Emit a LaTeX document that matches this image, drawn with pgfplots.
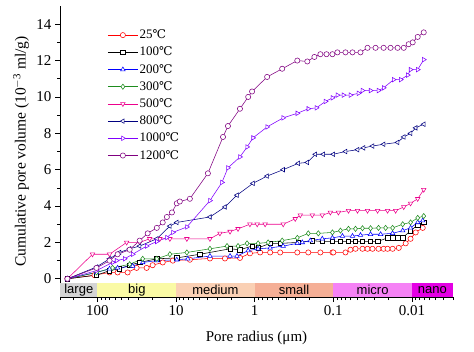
\documentclass[border=0pt]{standalone}
\usepackage{fontspec}
\setmainfont{Liberation Serif}
\setsansfont{Liberation Sans}
\newfontfamily\degfont{DejaVu Serif}
\newcommand{\dC}{{\degfont\fontsize{12}{14}\selectfont ℃}}
\usepackage{pgfplots}
\pgfplotsset{compat=1.18}
\definecolor{cgreen}{RGB}{30,140,30}
\definecolor{cnavy}{RGB}{0,0,128}
\definecolor{cviolet}{RGB}{128,0,255}
\definecolor{cpurple}{RGB}{128,0,128}
\definecolor{blarge}{RGB}{212,212,212}
\definecolor{bbig}{RGB}{250,250,165}
\definecolor{bmedium}{RGB}{250,208,180}
\definecolor{bsmall}{RGB}{245,175,150}
\definecolor{bmicro}{RGB}{245,130,245}
\definecolor{bnano}{RGB}{228,0,228}
\begin{document}
\begin{tikzpicture}
\useasboundingbox (-60pt,-54pt) rectangle (414pt,297pt);
\begin{axis}[
  at={(0pt,0pt)}, anchor=south west,
  scale only axis, width=393pt, height=291pt,
  xmode=log, x dir=reverse,
  xmin=0.003, xmax=300, ymin=-1, ymax=15,
  axis lines*=left,
  axis line style={line width=0.8pt},
  xtick={100,10,1,0.1,0.01},
  xticklabels={100,10,1,0.1,0.01},
  minor xtick={300,200,90,80,70,60,50,40,30,20,9,8,7,6,5,4,3,2,0.9,0.8,0.7,0.6,0.5,0.4,0.3,0.2,0.09,0.08,0.07,0.06,0.05,0.04,0.03,0.02,0.009,0.008,0.007,0.006,0.005,0.004,0.003},
  ytick={0,2,...,14},
  minor ytick={1,3,...,13},
  tick align=outside,
  major tick length=5pt, minor tick length=3pt,
  tick style={line width=0.7pt, black},
  /pgf/number format/assume math mode=true,
  tick label style={font=\fontsize{15}{18}\selectfont},
  xlabel={Pore radius (μm)},
  ylabel={Cumulative pore volume (10\textsuperscript{$-$3} ml/g)},
  every axis x label/.style={at={(axis description cs:0.5,-0.141)}, anchor=center, font=\fontsize{15}{18}\selectfont},
  every axis y label/.style={at={(axis description cs:-0.099,0.5)}, anchor=center, rotate=90, font=\fontsize{15.5}{18}\selectfont},
  legend style={draw=none, fill=none, at={(axis description cs:0.113,0.935)}, anchor=north west,
    font=\fontsize{13}{15}\selectfont, row sep=1.2pt,
    nodes={inner sep=1.5pt, text height=10pt, text depth=3pt}},
  legend cell align=left,
  legend image code/.code={\draw[mark repeat=2,mark phase=2,#1] plot coordinates {(0pt,0pt) (15pt,0pt) (30pt,0pt)};},
  every axis plot/.append style={line width=0.55pt, mark size=2.6pt},
  clip=false,
]
% size bands
\fill[blarge] (axis cs:300,-1) rectangle (axis cs:100,-0.22);
\fill[bbig] (axis cs:100,-1) rectangle (axis cs:10,-0.22);
\fill[bmedium] (axis cs:10,-1) rectangle (axis cs:1,-0.22);
\fill[bsmall] (axis cs:1,-1) rectangle (axis cs:0.1,-0.22);
\fill[bmicro] (axis cs:0.1,-1) rectangle (axis cs:0.01,-0.22);
\fill[bnano] (axis cs:0.01,-1) rectangle (axis cs:0.003,-0.22);
\node[font=\sffamily\fontsize{13}{15}\selectfont] at (axis cs:173,-0.6) {large};
\node[font=\sffamily\fontsize{13}{15}\selectfont] at (axis cs:31.6,-0.6) {big};
\node[font=\sffamily\fontsize{13}{15}\selectfont] at (axis cs:3.16,-0.6) {medium};
\node[font=\sffamily\fontsize{13}{15}\selectfont] at (axis cs:0.316,-0.6) {small};
\node[font=\sffamily\fontsize{13}{15}\selectfont] at (axis cs:0.0316,-0.6) {micro};
\node[font=\sffamily\fontsize{13}{15}\selectfont] at (axis cs:0.0055,-0.6) {nano};

% 25 C
\addplot[red, mark=*, mark options={solid, fill=white, line width=0.55pt}] coordinates {
(241.5,0) (109.2,0.2) (70.3,0.35) (55.5,0.35) (41.4,0.35) (31.8,0.6) (23.7,0.6) (19.9,0.75)
(14.8,0.9) (11.0,1.0) (6.68,1.05) (3.71,1.12) (2.39,1.12) (1.54,1.15) (1.15,1.4) (0.853,1.45)
(0.636,1.45) (0.474,1.45) (0.287,1.45) (0.208,1.45) (0.146,1.45) (0.1026,1.45) (0.0998,1.45) (0.070,1.45)
(0.0605,1.6) (0.0522,1.65) (0.0425,1.65) (0.0367,1.65) (0.0317,1.65) (0.0266,1.65) (0.0229,1.65)
(0.0204,1.65) (0.0176,1.65) (0.0147,1.7) (0.0120,1.95) (0.0104,2.2) (0.00895,2.55) (0.00728,2.8)};
\addlegendentry{25\dC}
% 100 C
\addplot[black, mark=square*, mark options={solid, fill=white, line width=0.55pt, scale=0.85}] coordinates {
(241.5,0) (103,0.2) (70.3,0.45) (52.4,0.55) (39.0,0.75) (29.1,0.9) (17.6,1.1) (9.8,1.15)
(4.98,1.35) (2.06,1.65) (1.54,1.6) (1.08,1.8) (0.905,1.7) (0.636,1.95) (0.474,1.95) (0.279,2.0)
(0.185,2.1) (0.138,2.05) (0.1026,2.05) (0.0811,2.05) (0.0641,2.05) (0.0522,2.05) (0.0425,2.05)
(0.0336,2.05) (0.0273,2.05) (0.0204,2.25) (0.0176,2.25) (0.0152,2.25) (0.0131,2.25) (0.0104,2.65)
(0.00844,2.95) (0.00707,3.1)};
\addlegendentry{100\dC}
% 200 C
\addplot[blue, mark=triangle*, mark options={solid, fill=white, line width=0.55pt}] coordinates {
(241.5,0) (103,0.35) (70.3,0.55) (55.5,0.6) (35.7,0.7) (26.6,0.9) (17.6,1.0) (9.8,1.05) (7.09,1.1)
(3.71,1.25) (2.06,1.25) (1.68,1.25) (1.21,1.55) (0.905,1.65) (0.636,1.7) (0.434,1.8) (0.287,1.95)
(0.248,2.0) (0.196,2.1) (0.138,2.2) (0.1026,2.25) (0.0765,2.35) (0.0570,2.35) (0.0451,2.4)
(0.0336,2.45) (0.025,2.45) (0.0176,2.5) (0.0131,2.65) (0.0104,2.8) (0.00844,3.1) (0.00728,3.2)};
\addlegendentry{200\dC}
% 300 C
\addplot[cgreen, mark=diamond*, mark options={solid, fill=white, line width=0.55pt}] coordinates {
(241.5,0) (103,0.35) (64.3,0.6) (39.0,0.8) (26.6,1.1) (17.6,1.1) (12.0,1.35) (7.30,1.45)
(3.71,1.65) (2.25,1.8) (1.63,1.8) (1.25,1.95) (0.905,1.95) (0.675,2.0) (0.447,2.1) (0.287,2.25)
(0.208,2.5) (0.155,2.5) (0.1026,2.55) (0.0811,2.65) (0.0641,2.75) (0.0522,2.75) (0.0425,2.78)
(0.0336,2.78) (0.0266,2.8) (0.0216,2.8) (0.0176,2.8) (0.0131,3.0) (0.0104,3.1) (0.00844,3.35) (0.00707,3.45)};
\addlegendentry{300\dC}
% 500 C
\addplot[magenta, mark=triangle*, mark options={solid, fill=white, line width=0.55pt, rotate=180}] coordinates {
(241.5,0) (115.8,1.35) (70.3,1.35) (42.6,2.0) (29.1,2.0) (21.7,2.2) (16.1,2.2) (12.0,2.2)
(7.30,2.2) (3.71,2.2) (2.77,2.5) (2.06,2.6) (1.63,2.75) (1.15,3.0) (0.93,3.0) (0.737,3.0)
(0.434,3.0) (0.305,3.3) (0.263,3.5) (0.185,3.5) (0.138,3.5) (0.109,3.65) (0.0861,3.65) (0.0641,3.75)
(0.0492,3.75) (0.0367,3.75) (0.0273,3.75) (0.0204,3.75) (0.0161,3.75) (0.0127,3.95) (0.0104,4.15)
(0.00844,4.4) (0.00707,4.9)};
\addlegendentry{500\dC}
% 800 C
\addplot[cnavy, mark=triangle*, mark options={solid, fill=white, line width=0.55pt, rotate=90}] coordinates {
(241.5,0) (103,0.65) (70.3,1.1) (52.4,1.45) (39.0,1.65) (29.1,1.8) (17.6,2.2) (12.0,2.9) (9.8,3.1)
(3.71,3.4) (2.39,3.95) (1.68,4.6) (1.05,5.25) (0.695,5.65) (0.434,6.0) (0.279,6.35) (0.214,6.4)
(0.169,6.85) (0.134,6.85) (0.0998,6.85) (0.070,7.0) (0.0492,7.1) (0.0413,7.2) (0.0317,7.3)
(0.0229,7.4) (0.0152,7.5) (0.0127,7.8) (0.0104,8.0) (0.00895,8.3) (0.00707,8.5)};
\addlegendentry{800\dC}
% 1000 C
\addplot[cviolet, mark=triangle*, mark options={solid, fill=white, line width=0.55pt, rotate=-90}] coordinates {
(241.5,0) (103,0.45) (64.3,0.9) (57.2,1.0) (45.2,1.1) (35.7,1.35) (23.7,1.8) (17.6,2.05) (13.1,2.27)
(11.0,2.55) (7.30,2.85) (3.71,4.3) (2.61,5.3) (2.19,6.1) (1.54,6.7) (1.25,7.25) (1.05,7.75)
(0.695,8.35) (0.434,8.85) (0.287,9.1) (0.208,9.35) (0.164,9.4) (0.126,9.75) (0.1026,9.95)
(0.0887,10.1) (0.0743,10.1) (0.0605,10.1) (0.0478,10.2) (0.0425,10.35) (0.0336,10.35) (0.0266,10.35)
(0.0229,10.5) (0.0171,10.95) (0.0139,10.95) (0.0113,11.2) (0.0104,11.5) (0.00844,11.5) (0.00707,12.05)};
\addlegendentry{1000\dC}
% 1200 C
\addplot[cpurple, mark=*, mark options={solid, fill=white, line width=0.55pt}] coordinates {
(241.5,0) (103,0.6) (70.3,1.0) (55.5,1.35) (39.0,1.6) (29.1,2.1) (23.0,2.5) (17.6,2.8) (14.8,3.1)
(13.1,3.4) (11.3,3.65) (9.8,4.15) (8.97,4.25) (6.68,4.4) (3.94,5.8) (2.53,7.8) (2.19,8.4)
(1.54,9.35) (1.21,10.0) (1.08,10.3) (0.695,11.1) (0.447,11.55) (0.287,12.0) (0.214,11.95)
(0.174,12.2) (0.146,12.35) (0.122,12.35) (0.1026,12.35) (0.0887,12.45) (0.070,12.45) (0.057,12.45)
(0.0451,12.45) (0.0367,12.7) (0.029,12.7) (0.0229,12.7) (0.0187,12.7) (0.0152,12.7) (0.0127,12.7)
(0.011,12.9) (0.00977,13.0) (0.00844,13.3) (0.00707,13.55)};
\addlegendentry{1200\dC}
\end{axis}
\end{tikzpicture}
\end{document}
